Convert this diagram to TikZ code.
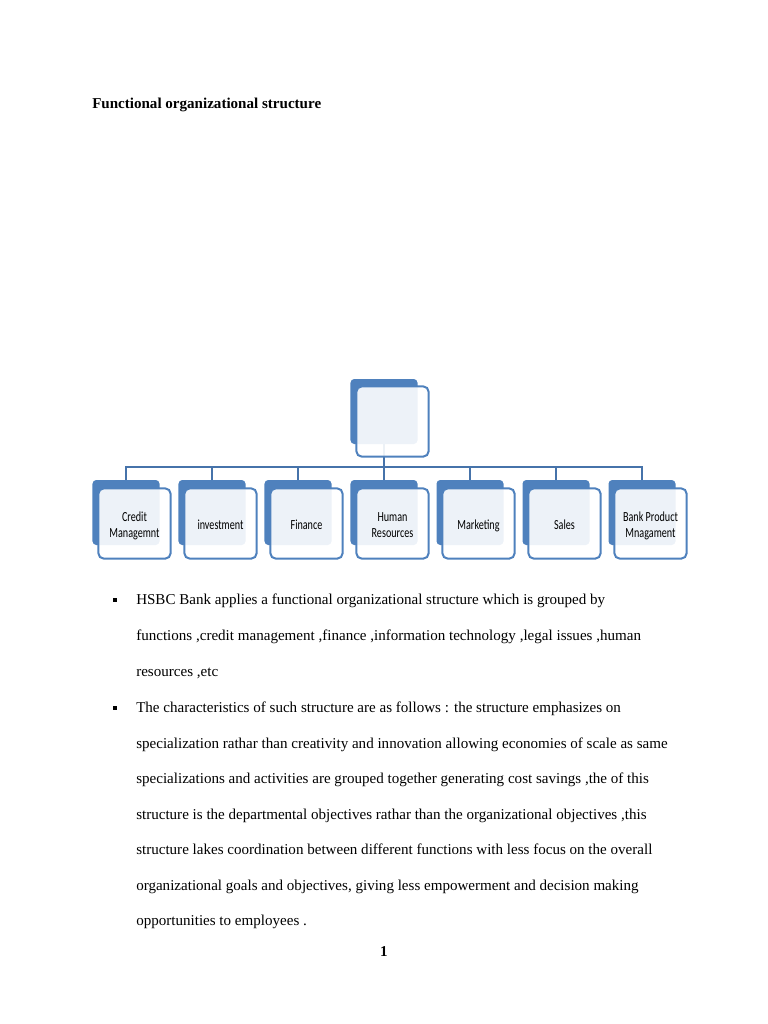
\documentclass[tikz,border=0pt]{standalone}
\usepackage{graphicx}
\usepackage{fontspec}
\setmainfont{Liberation Serif}
\newfontfamily\boxfont{Carlito}
\definecolor{orgblue}{HTML}{4F81BD}
\definecolor{busblue}{HTML}{4673AA}
\newcommand{\unittext}[1]{\raisebox{-2.4pt}[\height][\depth]{\scalebox{0.95}[1.3]{\begin{tabular}{@{}c@{}}#1\end{tabular}}}}

\begin{document}
\begin{tikzpicture}[x=0.796875pt, y=-0.796875pt,
	backbox/.style={rectangle, rounded corners=3pt, fill=orgblue, minimum width=53.4pt, minimum height=51.8pt, inner sep=0pt},
	unit/.style={rectangle, rounded corners=4pt, draw=orgblue, line width=1.6pt, fill=white, fill opacity=0.9, text opacity=1, minimum width=57.4pt, minimum height=55.8pt, inner sep=1pt, align=center, font=\boxfont\fontsize{8.5}{9.6}\selectfont},
	bus/.style={draw=busblue, line width=2pt},
	para/.style={anchor=base west, inner sep=0pt, font=\fontsize{12}{14}\selectfont},
	dot/.style={fill=black, minimum size=3.6pt, inner sep=0pt}]
	\useasboundingbox (0,0) rectangle (768,1024);
	\node[para, font=\bfseries\fontsize{12}{14}\selectfont] (title) at (92,108) {Functional organizational structure};

	% back boxes
	\node[backbox] (topb) at (384,411.5) {};
	\node[backbox] (creditb) at (126,512.5) {};
	\node[backbox] (investb) at (212,512.5) {};
	\node[backbox] (financeb) at (298,512.5) {};
	\node[backbox] (hrb) at (384,512.5) {};
	\node[backbox] (mktb) at (470,512.5) {};
	\node[backbox] (salesb) at (556,512.5) {};
	\node[backbox] (bpmb) at (642,512.5) {};

	% connectors
	\coordinate (bus) at (384,467);
	\draw[bus] (topb.south) -- (bus);
	\draw[bus] (creditb.north) |- (bus);
	\draw[bus] (investb.north) |- (bus);
	\draw[bus] (financeb.north) |- (bus);
	\draw[bus] (hrb.north) -- (bus);
	\draw[bus] (mktb.north) |- (bus);
	\draw[bus] (salesb.north) |- (bus);
	\draw[bus] (bpmb.north) |- (bus);

	% front boxes
	\node[unit] (top) at (392.5,421.5) {};
	\node[unit] (credit) at (134.5,523.5) {\unittext{Credit\\Managemnt}};
	\node[unit] (invest) at (220.5,523.5) {\unittext{investment}};
	\node[unit] (finance) at (306.5,523.5) {\unittext{Finance}};
	\node[unit] (hr) at (392.5,523.5) {\unittext{Human\\Resources}};
	\node[unit] (mkt) at (478.5,523.5) {\unittext{Marketing}};
	\node[unit] (sales) at (564.5,523.5) {\unittext{Sales}};
	\node[unit] (bpm) at (650.5,523.5) {\unittext{Bank Product\\Mnagament}};

	% text
	\node[dot] (b1) at (115,600) {};
	\node[para] (l1) at (136,604) {HSBC Bank applies a functional organizational structure which is grouped by};
	\node[para] (l2) at (136,640) {functions ,credit management ,finance ,information technology ,legal issues ,human};
	\node[para] (l3) at (136,676) {resources ,etc};
	\node[dot] (b2) at (115,708) {};
	\node[para] (l4) at (136,712) {The characteristics of such structure are as follows : the structure emphasizes on};
	\node[para] (l5) at (136,748) {specialization rathar than creativity and innovation allowing economies of scale as same};
	\node[para] (l6) at (136,783) {specializations and activities are grouped together generating cost savings ,the of this};
	\node[para] (l7) at (136,819) {structure is the departmental objectives rathar than the organizational objectives ,this};
	\node[para] (l8) at (136,854) {structure lakes coordination between different functions with less focus on the overall};
	\node[para] (l9) at (136,890) {organizational goals and objectives, giving less empowerment and decision making};
	\node[para] (l10) at (136,925) {opportunities to employees .};
	\node[anchor=base, inner sep=0pt, font=\bfseries\fontsize{12}{14}\selectfont] (pgnum) at (384,956) {1};
\end{tikzpicture}
\end{document}
